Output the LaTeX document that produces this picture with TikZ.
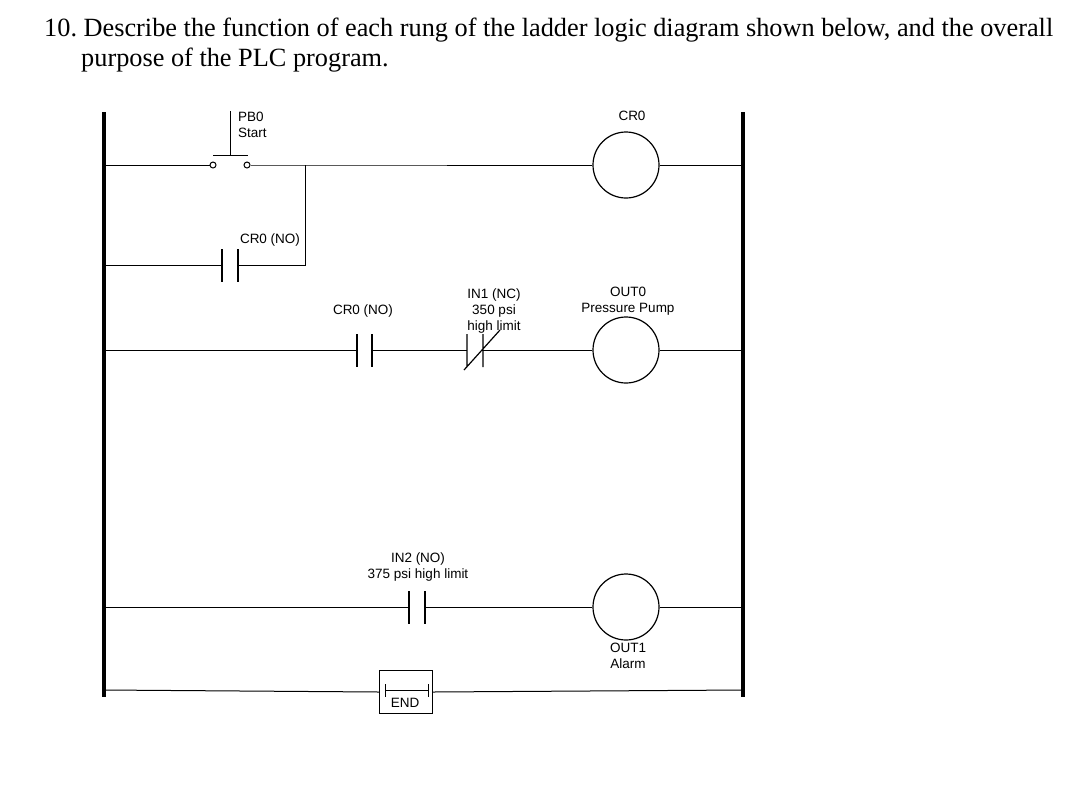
\documentclass[tikz,border=0pt]{standalone}
\usepackage{fontspec}
\setmainfont{Liberation Serif}
\newfontfamily\lab{Liberation Sans}
\begin{document}
\begin{tikzpicture}[x=1pt,y=-1pt,
  wire/.style={line width=1pt},
  rail/.style={line width=4pt},
  lbl/.style={font=\lab\fontsize{13.5}{16}\selectfont,inner sep=0pt,align=center},
  coil/.style={circle,draw,line width=1.2pt,minimum size=66pt,inner sep=0pt},
  plate/.style={line width=1.2pt}]
\useasboundingbox (0,0) rectangle (1081,785);
\node[anchor=base west,inner sep=0pt,font=\fontsize{26.3}{30}\selectfont] (t1) at (44,36) {10.\ Describe the function of each rung of the ladder logic diagram shown below, and the overall};
\node[anchor=base west,inner sep=0pt,font=\fontsize{26.3}{30}\selectfont] (t2) at (81,66) {purpose of the PLC program.};
% rails
\coordinate (lt) at (104,112); \coordinate (lb) at (104,697);
\coordinate (rt) at (743,112); \coordinate (rb) at (743,697);
\draw[rail] (lt) -- (lb); \draw[rail] (rt) -- (rb);
% rung 1
\node[coil] (c0) at (626,165) {};
\node[circle,draw,wire,minimum size=6pt,inner sep=0pt] (pa) at (213,165) {};
\node[circle,draw,wire,minimum size=6pt,inner sep=0pt] (pb) at (247,165) {};
\coordinate (j1) at (305,165); \coordinate (j2) at (305,265);
\draw[wire] (104,165) -- (pa.west);
\draw[wire] (pb.east) -- (j1) -- (c0.west);
\draw[wire] (c0.east) -- (743,165);
\draw[wire] (213,155) -- (248,155) (230,155) -- (230,111);
\node[lbl,anchor=west,align=left] (pbl) at (238,125) {PB0\\Start};
\node[lbl] (c0l) at (632,116) {CR0};
% branch
\draw[plate] (222,249) -- (222,282) (238,249) -- (238,282);
\draw[wire] (104,265) -- (222,265) (238,265) -- (j2) -- (j1);
\node[lbl] (br) at (270,240) {CR0 (NO)};
% rung 2
\node[coil] (c1) at (626,350) {};
\draw[plate] (357,334) -- (357,367) (372,334) -- (372,367);
\draw[plate] (467,334) -- (467,367) (483,334) -- (483,367) (464,370) -- (500,330);
\draw[wire] (104,350) -- (357,350) (372,350) -- (467,350) (483,350) -- (c1.west) (c1.east) -- (743,350);
\node[lbl] (r2a) at (363,311) {CR0 (NO)};
\node[lbl] (r2b) at (494,311) {IN1 (NC)\\350 psi\\high limit};
\node[lbl] (r2c) at (628,301) {OUT0\\Pressure Pump};
% rung 3
\node[coil] (c2) at (626,607) {};
\draw[plate] (409,591) -- (409,624) (425,591) -- (425,624);
\draw[wire] (104,607) -- (409,607) (425,607) -- (c2.west) (c2.east) -- (743,607);
\node[lbl] (r3a) at (418,567) {IN2 (NO)\\375 psi high limit};
\node[lbl] (r3b) at (628,656) {OUT1\\Alarm};
% rung 4
\node[draw,line width=1.2pt,minimum width=53pt,minimum height=43pt,inner sep=0pt] (end) at (406,692) {};
\draw[wire] (104,690) -- (end.west) (end.east) -- (743,690);
\draw[wire] (385,690) -- (428,690) (385,684) -- (385,697) (428,684) -- (428,697);
\node[lbl] (endl) at (405,703) {END};
\end{tikzpicture}
\end{document}
